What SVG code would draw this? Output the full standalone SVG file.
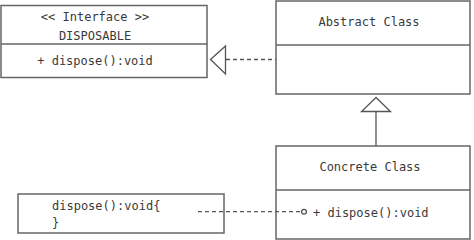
<svg xmlns="http://www.w3.org/2000/svg" width="474" height="240" viewBox="0 0 474 240">
<style>
  .box { fill: #ffffff; stroke: #666666; stroke-width: 1.5; }
  .div { stroke: #666666; stroke-width: 1.5; fill: none; }
  .t { font-family: "DejaVu Sans Mono", "Liberation Mono", monospace; font-size: 12px; fill: #3a3a3a; }
  .dash { stroke: #555555; stroke-width: 1.3; stroke-dasharray: 4 3; fill: none; }
  .solid { stroke: #555555; stroke-width: 1.3; fill: none; }
  .head { fill: #ffffff; stroke: #555555; stroke-width: 1.3; }
</style>
<rect width="474" height="240" fill="#ffffff"/>
<g id="interface">
  <rect class="box" x="1" y="5.5" width="206" height="72"/>
  <line class="div" x1="1" y1="44" x2="207" y2="44"/>
  <text class="t" x="95" y="21" text-anchor="middle">&lt;&lt; Interface &gt;&gt;</text>
  <text class="t" x="95" y="40" text-anchor="middle">DISPOSABLE</text>
  <text class="t" x="95" y="65" text-anchor="middle">+ dispose():void</text>
</g>
<g id="abstract">
  <rect class="box" x="276" y="1" width="194" height="93"/>
  <line class="div" x1="276" y1="45" x2="470" y2="45"/>
  <text class="t" x="369" y="26" text-anchor="middle">Abstract Class</text>
</g>
<g id="concrete">
  <rect class="box" x="276" y="146" width="194" height="93"/>
  <line class="div" x1="276" y1="190" x2="470" y2="190"/>
  <text class="t" x="370" y="171" text-anchor="middle">Concrete Class</text>
  <text class="t" x="313" y="217">+ dispose():void</text>
</g>
<g id="note">
  <rect class="box" x="18" y="194" width="206" height="39"/>
  <text class="t" x="52" y="210">dispose():void{</text>
  <text class="t" x="52" y="227">}</text>
</g>
<g id="connectors">
  <line class="dash" x1="226" y1="59.5" x2="276" y2="59.5"/>
  <polygon class="head" points="210.5,59.5 225.5,46 225.5,74"/>
  <line class="solid" x1="376" y1="111.5" x2="376" y2="146"/>
  <polygon class="head" points="376,97.5 361.5,111.5 390.5,111.5"/>
  <line class="dash" x1="198" y1="211.7" x2="301.5" y2="211.7"/>
  <circle class="head" cx="304" cy="211.7" r="2.4"/>
</g>
</svg>
